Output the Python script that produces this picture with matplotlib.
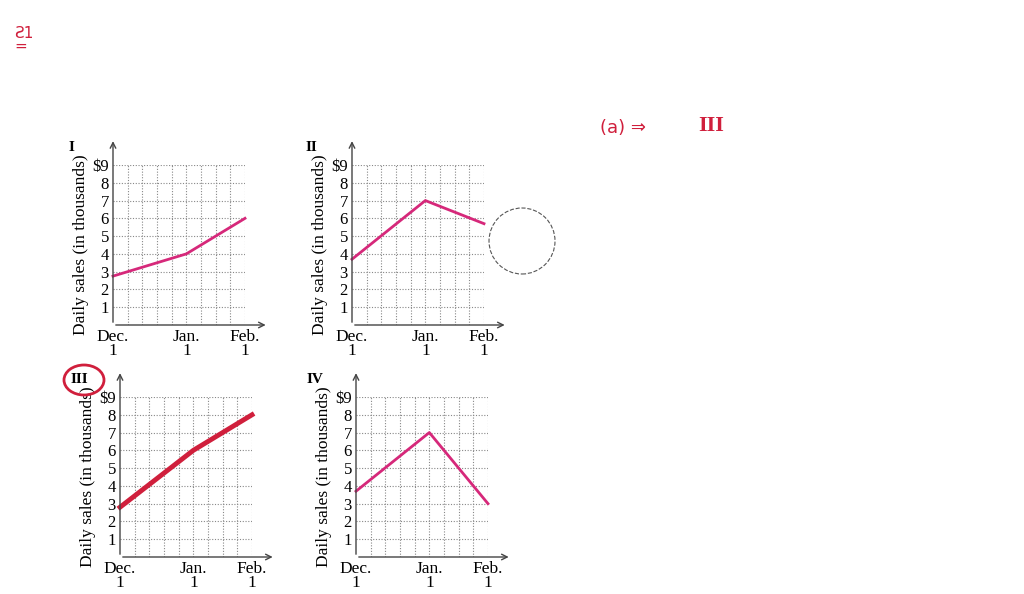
import matplotlib
matplotlib.use("Agg")
import matplotlib.pyplot as plt
from matplotlib.patches import Ellipse

plt.rcParams['font.family'] = ['Liberation Serif', 'DejaVu Serif']

months = ["Dec.\n1", "Jan.\n1", "Feb.\n1"]
month_pos = [0, 5, 9]
yticks = [1, 2, 3, 4, 5, 6, 7, 8, 9]
ylabels = ["1", "2", "3", "4", "5", "6", "7", "8", "$9"]
series_I = [2.75, 4, 6]
series_II = [3.7, 7, 5.7]
series_III = [2.8, 6, 8]
series_IV = [3.7, 7, 3]

W, H = 1024, 594
fig = plt.figure(figsize=(10.24, 5.94), dpi=100)
fig.patch.set_facecolor("white")

panels = [
    ("I", series_I, 113, 165, "#d6287a", 2),
    ("II", series_II, 352, 165, "#d6287a", 2),
    ("III", series_III, 120, 397, "#d01f3c", 3.5),
    ("IV", series_IV, 356, 397, "#d6287a", 2),
]
for name, vals, lx, ty, col, lw in panels:
    ax = fig.add_axes([lx / W, 1 - (ty + 160) / H, 132 / W, 160 / H])
    ax.set_xlim(0, 9)
    ax.set_ylim(0, 9)
    for s in ax.spines.values():
        s.set_visible(False)
    for x in range(1, 10):
        ax.axvline(x, color="#888", lw=0.8, ls=(0, (1, 1.5)))
    for y in range(1, 10):
        ax.axhline(y, color="#888", lw=0.8, ls=(0, (1, 1.5)))
    ax.annotate("", xy=(10.6, 0), xytext=(0, 0), annotation_clip=False,
                arrowprops=dict(arrowstyle="->", color="#444", lw=1))
    ax.annotate("", xy=(0, 10.5), xytext=(0, 0), annotation_clip=False,
                arrowprops=dict(arrowstyle="->", color="#444", lw=1))
    ax.plot(month_pos, vals, color=col, lw=lw, clip_on=False)
    ax.set_yticks(yticks)
    ax.set_yticklabels(ylabels, fontsize=12)
    ax.set_xticks(month_pos)
    ax.set_xticklabels(months, fontsize=12.5, linespacing=0.85)
    ax.tick_params(length=0, pad=3)
    ax.set_ylabel("Daily sales (in thousands)", fontsize=12.5, labelpad=2)
    ax.text(-2.8, 10.0, name, fontsize=11, fontweight="bold", ha="center", va="center")

# hand annotations
fig.patches.append(Ellipse((522 / W, 1 - 241 / H), 66 / W, 66 / H, transform=fig.transFigure,
                           fill=False, ls="--", lw=0.8, ec="#555"))
fig.patches.append(Ellipse((84 / W, 1 - 380 / H), 40 / W, 30 / H, transform=fig.transFigure,
                           fill=False, lw=2, ec="#d01f3c"))
fig.text(600 / W, 1 - 128 / H, "(a) ⇒", color="#d01f3c", fontsize=13, va="center",
         family=["DejaVu Sans"])
fig.text(698 / W, 1 - 126 / H, "III", color="#d01f3c", fontsize=16, va="center", fontweight="bold")
fig.text(14 / W, 1 - 40 / H, "Ƨ1\n=", color="#d01f3c", fontsize=11, va="center",
         family=["DejaVu Sans"], linespacing=0.8)

fig.savefig("out.png", dpi=100)
